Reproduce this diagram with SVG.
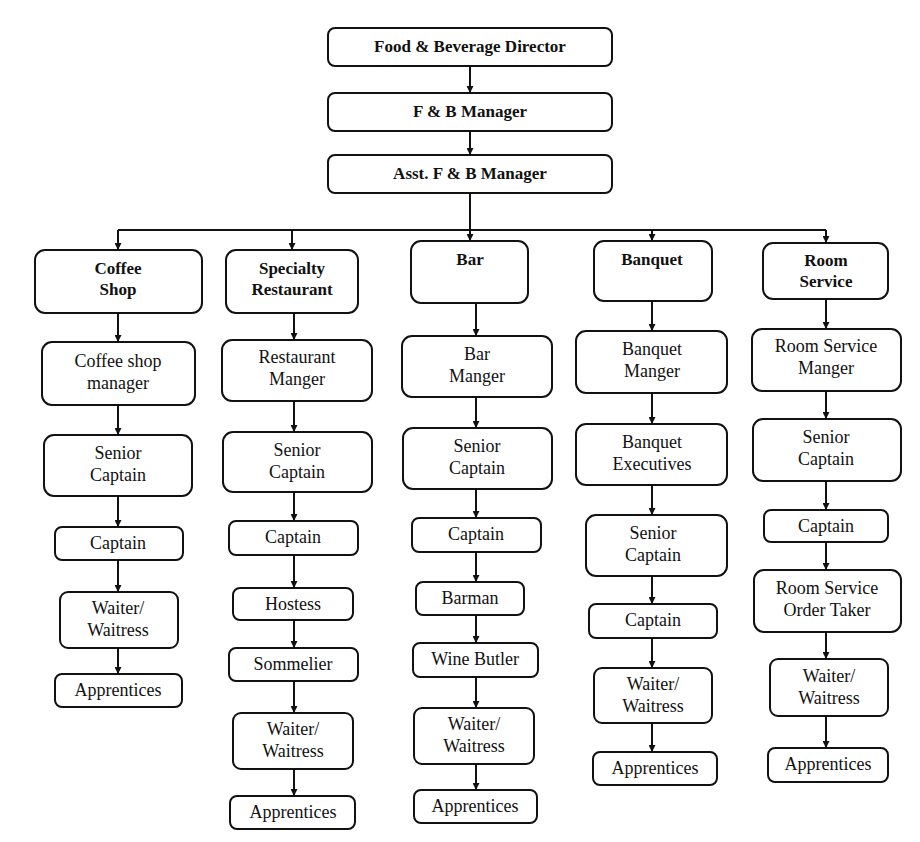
<svg xmlns="http://www.w3.org/2000/svg" width="920" height="842" viewBox="0 0 920 842">
<defs>
<marker id="ah" viewBox="0 0 10 10" refX="10" refY="5" markerWidth="7" markerHeight="7" orient="auto" markerUnits="userSpaceOnUse"><path d="M0,0 L10,5 L0,10 z" fill="#111"/></marker>
</defs>
<style>
rect{fill:#fff;stroke:#111;stroke-width:2}
text{font-family:"Liberation Serif",serif;font-size:18px;fill:#111;text-anchor:middle}
.b{font-weight:bold;font-size:17px}
.h{font-weight:bold;font-size:17px}
#conn line{stroke:#111;stroke-width:2;fill:none}
</style>
<rect x="0" y="0" width="920" height="842" style="fill:#fff;stroke:none"/>
<g id="conn">
<line x1="470" y1="66" x2="470" y2="93" marker-end="url(#ah)"/>
<line x1="470" y1="131" x2="470" y2="155" marker-end="url(#ah)"/>
<line x1="470" y1="193" x2="470" y2="230"/>
<line x1="118" y1="230" x2="826" y2="230"/>
<line x1="118" y1="230" x2="118" y2="250" marker-end="url(#ah)"/>
<line x1="292" y1="230" x2="292" y2="250" marker-end="url(#ah)"/>
<line x1="470" y1="230" x2="470" y2="241" marker-end="url(#ah)"/>
<line x1="652" y1="230" x2="652" y2="241" marker-end="url(#ah)"/>
<line x1="826" y1="230" x2="826" y2="243" marker-end="url(#ah)"/>
<line x1="118" y1="313" x2="118" y2="342" marker-end="url(#ah)"/>
<line x1="118" y1="405" x2="118" y2="435" marker-end="url(#ah)"/>
<line x1="118" y1="496" x2="118" y2="527" marker-end="url(#ah)"/>
<line x1="118" y1="560" x2="118" y2="592" marker-end="url(#ah)"/>
<line x1="118" y1="648" x2="118" y2="674" marker-end="url(#ah)"/>
<line x1="294" y1="313" x2="294" y2="340" marker-end="url(#ah)"/>
<line x1="294" y1="401" x2="294" y2="432" marker-end="url(#ah)"/>
<line x1="294" y1="492" x2="294" y2="521" marker-end="url(#ah)"/>
<line x1="294" y1="555" x2="294" y2="588" marker-end="url(#ah)"/>
<line x1="294" y1="620" x2="294" y2="648" marker-end="url(#ah)"/>
<line x1="294" y1="681" x2="294" y2="713" marker-end="url(#ah)"/>
<line x1="294" y1="769" x2="294" y2="796" marker-end="url(#ah)"/>
<line x1="476" y1="303" x2="476" y2="336" marker-end="url(#ah)"/>
<line x1="476" y1="397" x2="476" y2="428" marker-end="url(#ah)"/>
<line x1="476" y1="489" x2="476" y2="518" marker-end="url(#ah)"/>
<line x1="476" y1="552" x2="476" y2="582" marker-end="url(#ah)"/>
<line x1="476" y1="615" x2="476" y2="643" marker-end="url(#ah)"/>
<line x1="476" y1="677" x2="476" y2="708" marker-end="url(#ah)"/>
<line x1="476" y1="764" x2="476" y2="790" marker-end="url(#ah)"/>
<line x1="652" y1="301" x2="652" y2="331" marker-end="url(#ah)"/>
<line x1="652" y1="393" x2="652" y2="424" marker-end="url(#ah)"/>
<line x1="652" y1="485" x2="652" y2="515" marker-end="url(#ah)"/>
<line x1="652" y1="576" x2="652" y2="604" marker-end="url(#ah)"/>
<line x1="652" y1="638" x2="652" y2="668" marker-end="url(#ah)"/>
<line x1="652" y1="723" x2="652" y2="752" marker-end="url(#ah)"/>
<line x1="826" y1="299" x2="826" y2="329" marker-end="url(#ah)"/>
<line x1="826" y1="391" x2="826" y2="419" marker-end="url(#ah)"/>
<line x1="826" y1="481" x2="826" y2="510" marker-end="url(#ah)"/>
<line x1="826" y1="542" x2="826" y2="570" marker-end="url(#ah)"/>
<line x1="826" y1="632" x2="826" y2="659" marker-end="url(#ah)"/>
<line x1="826" y1="716" x2="826" y2="748" marker-end="url(#ah)"/>
</g>
<g id="n-fbd"><rect x="328" y="28" width="284" height="38" rx="7"/><text class="b" x="470" y="52">Food &amp; Beverage Director</text></g>
<g id="n-fbm"><rect x="328" y="93" width="284" height="38" rx="7"/><text class="b" x="470" y="117">F &amp; B Manager</text></g>
<g id="n-afbm"><rect x="328" y="155" width="284" height="38" rx="7"/><text class="b" x="470" y="179">Asst. F &amp; B Manager</text></g>

<g id="n-cs"><rect x="35" y="250" width="167" height="63" rx="10"/><text class="h" x="118" y="274">Coffee</text><text class="h" x="118" y="295">Shop</text></g>
<g id="n-sr"><rect x="226" y="250" width="132" height="63" rx="10"/><text class="h" x="292" y="274">Specialty</text><text class="h" x="292" y="295">Restaurant</text></g>
<g id="n-bar"><rect x="411" y="241" width="117" height="62" rx="10"/><text class="h" x="470" y="265">Bar</text></g>
<g id="n-bq"><rect x="594" y="241" width="118" height="60" rx="10"/><text class="h" x="652" y="265">Banquet</text></g>
<g id="n-rs"><rect x="763" y="243" width="125" height="56" rx="10"/><text class="h" x="826" y="266">Room</text><text class="h" x="826" y="287">Service</text></g>

<g id="c1-1"><rect x="42" y="342" width="153" height="63" rx="10"/><text x="118" y="367">Coffee shop</text><text x="118" y="389">manager</text></g>
<g id="c1-2"><rect x="44" y="435" width="148" height="61" rx="10"/><text x="118" y="459">Senior</text><text x="118" y="481">Captain</text></g>
<g id="c1-3"><rect x="55" y="527" width="128" height="33" rx="7"/><text x="118" y="549">Captain</text></g>
<g id="c1-4"><rect x="60" y="592" width="118" height="56" rx="8"/><text x="118" y="614">Waiter/</text><text x="118" y="636">Waitress</text></g>
<g id="c1-5"><rect x="55" y="674" width="127" height="33" rx="7"/><text x="118" y="696">Apprentices</text></g>

<g id="c2-1"><rect x="222" y="340" width="150" height="61" rx="10"/><text x="297" y="363">Restaurant</text><text x="297" y="385">Manger</text></g>
<g id="c2-2"><rect x="223" y="432" width="149" height="60" rx="10"/><text x="297" y="456">Senior</text><text x="297" y="478">Captain</text></g>
<g id="c2-3"><rect x="229" y="521" width="129" height="34" rx="7"/><text x="293" y="543">Captain</text></g>
<g id="c2-4"><rect x="233" y="588" width="120" height="32" rx="7"/><text x="293" y="610">Hostess</text></g>
<g id="c2-5"><rect x="229" y="648" width="129" height="33" rx="7"/><text x="293" y="670">Sommelier</text></g>
<g id="c2-6"><rect x="233" y="713" width="120" height="56" rx="8"/><text x="293" y="735">Waiter/</text><text x="293" y="757">Waitress</text></g>
<g id="c2-7"><rect x="230" y="796" width="125" height="33" rx="7"/><text x="293" y="818">Apprentices</text></g>

<g id="c3-1"><rect x="402" y="336" width="150" height="61" rx="10"/><text x="477" y="360">Bar</text><text x="477" y="382">Manger</text></g>
<g id="c3-2"><rect x="403" y="428" width="149" height="61" rx="10"/><text x="477" y="452">Senior</text><text x="477" y="474">Captain</text></g>
<g id="c3-3"><rect x="412" y="518" width="129" height="34" rx="7"/><text x="476" y="540">Captain</text></g>
<g id="c3-4"><rect x="416" y="582" width="108" height="33" rx="7"/><text x="470" y="604">Barman</text></g>
<g id="c3-5"><rect x="413" y="643" width="125" height="34" rx="7"/><text x="475" y="665">Wine Butler</text></g>
<g id="c3-6"><rect x="414" y="708" width="120" height="56" rx="8"/><text x="474" y="730">Waiter/</text><text x="474" y="752">Waitress</text></g>
<g id="c3-7"><rect x="414" y="790" width="123" height="33" rx="7"/><text x="475" y="812">Apprentices</text></g>

<g id="c4-1"><rect x="576" y="331" width="151" height="62" rx="10"/><text x="652" y="355">Banquet</text><text x="652" y="377">Manger</text></g>
<g id="c4-2"><rect x="576" y="424" width="151" height="61" rx="10"/><text x="652" y="448">Banquet</text><text x="652" y="470">Executives</text></g>
<g id="c4-3"><rect x="586" y="515" width="141" height="61" rx="10"/><text x="653" y="539">Senior</text><text x="653" y="561">Captain</text></g>
<g id="c4-4"><rect x="589" y="604" width="128" height="34" rx="7"/><text x="653" y="626">Captain</text></g>
<g id="c4-5"><rect x="594" y="668" width="118" height="55" rx="8"/><text x="653" y="690">Waiter/</text><text x="653" y="712">Waitress</text></g>
<g id="c4-6"><rect x="593" y="752" width="124" height="33" rx="7"/><text x="655" y="774">Apprentices</text></g>

<g id="c5-1"><rect x="752" y="329" width="149" height="62" rx="10"/><text x="826" y="352">Room Service</text><text x="826" y="374">Manger</text></g>
<g id="c5-2"><rect x="753" y="419" width="148" height="62" rx="10"/><text x="826" y="443">Senior</text><text x="826" y="465">Captain</text></g>
<g id="c5-3"><rect x="764" y="510" width="124" height="32" rx="7"/><text x="826" y="532">Captain</text></g>
<g id="c5-4"><rect x="754" y="570" width="147" height="62" rx="10"/><text x="827" y="594">Room Service</text><text x="827" y="616">Order Taker</text></g>
<g id="c5-5"><rect x="770" y="659" width="118" height="57" rx="8"/><text x="829" y="682">Waiter/</text><text x="829" y="704">Waitress</text></g>
<g id="c5-6"><rect x="768" y="748" width="120" height="34" rx="7"/><text x="828" y="770">Apprentices</text></g>
</svg>
